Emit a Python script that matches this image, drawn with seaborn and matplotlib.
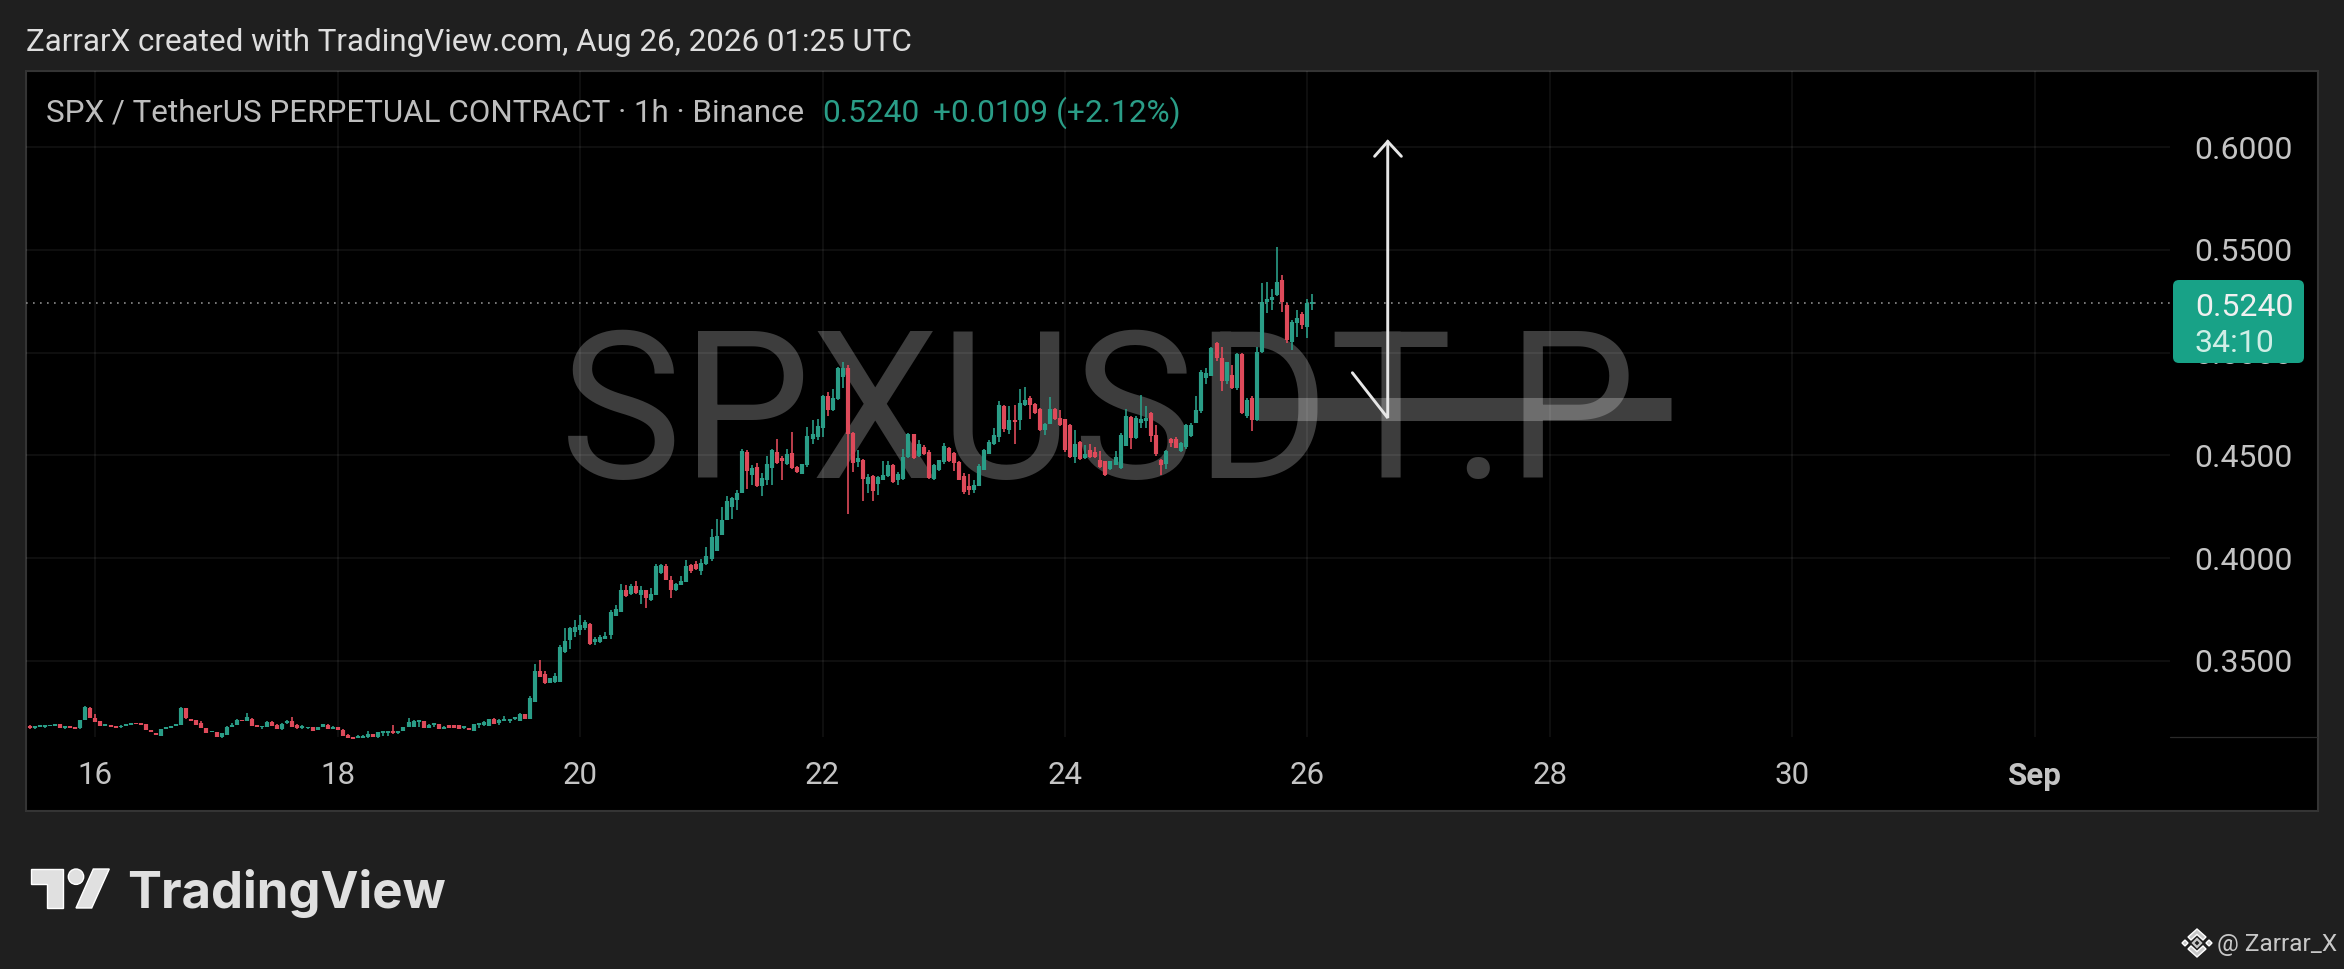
import numpy as np
import pandas as pd
import seaborn as sns
import matplotlib.pyplot as plt
from matplotlib.patches import Polygon, FancyBboxPatch, Rectangle, Circle

# hourly candles. hour 0 = Aug 16 00:00 UTC
first_hour = -13

opens = [
    .3183, .3176, .3181, .3181, .3185, .3188, .3193, .3176, .3178, .3176,
    .3172, .3212, .3272, .3224, .3208, .3188, .3184, .3180, .3177, .3185,
    .3188, .3197, .3196, .3193, .3165, .3150, .3137, .3170, .3175, .3185,
    .3188, .3270, .3215, .3212, .3200, .3175, .3155, .3155, .3128, .3140,
    .3180, .3190, .3213, .3208, .3220, .3185, .3180, .3178, .3205, .3190,
    .3170, .3197, .3210, .3190, .3172, .3175, .3178, .3163, .3180, .3190,
    .3168, .3178, .3166, .3142, .3124, .3126, .3126, .3129, .3145, .3129,
    .3150, .3153, .3160, .3148, .3160, .3181, .3178, .3205, .3207, .3175,
    .3189, .3191, .3170, .3186, .3187, .3186, .3176, .3170, .3161, .3190,
    .3186, .3184, .3220, .3197, .3207, .3210, .3216, .3207, .3242, .3218,
    .3300, .3453, .3437, .3393, .3396, .3400, .3543, .3600, .3641, .3650,
    .3658, .3682, .3592, .3592, .3608, .3625, .3720, .3740, .3847, .3825,
    .3863, .3822, .3847, .3797, .3822, .3930, .3962, .3896, .3847, .3868,
    .3885, .3965, .3970, .3937, .3970, .3995, .4036, .4115, .4184, .4247,
    .4283, .4316, .4516, .4406, .4444, .4349, .4382, .4439, .4516, .4489,
    .4456, .4510, .4444, .4411, .4451, .4581, .4590, .4635, .4788, .4720,
    .4772, .4880, .4924, .4609, .4467, .4479, .4362, .4402, .4362, .4381,
    .4402, .4451, .4378, .4386, .4492, .4603, .4495, .4541, .4516, .4386,
    .4427, .4467, .4537, .4511, .4467, .4402, .4353, .4332, .4353, .4430,
    .4508, .4554, .4590, .4740, .4625, .4674, .4671, .4745, .4777, .4749,
    .4728, .4622, .4655, .4728, .4684, .4679, .4647, .4492, .4565, .4489,
    .4524, .4516, .4479, .4471, .4434, .4455, .4439, .4547, .4688, .4586,
    .4659, .4667, .4707, .4597, .4479, .4460, .4578, .4578, .4521, .4542,
    .4594, .4659, .4714, .4876, .4887, .5045, .4973, .4860, .4892, .4827,
    .4994, .4690, .4779, .4674, .5005, .5247, .5255, .5279, .5352, .5231,
    .5053, .5142, .5190, .5126, .5239,
]
highs = [
    .3186, .3180, .3190, .3184, .3188, .3193, .3194, .3185, .3179, .3177,
    .3213, .3283, .3274, .3240, .3209, .3191, .3185, .3181, .3186, .3189,
    .3196, .3198, .3197, .3194, .3166, .3151, .3168, .3176, .3181, .3189,
    .3278, .3272, .3216, .3213, .3210, .3176, .3160, .3156, .3149, .3182,
    .3196, .3216, .3214, .3245, .3222, .3186, .3183, .3206, .3206, .3192,
    .3197, .3215, .3225, .3192, .3186, .3180, .3179, .3179, .3193, .3191,
    .3182, .3179, .3167, .3143, .3125, .3142, .3138, .3161, .3146, .3154,
    .3157, .3159, .3186, .3161, .3179, .3221, .3215, .3211, .3208, .3192,
    .3195, .3192, .3182, .3187, .3188, .3187, .3182, .3171, .3195, .3195,
    .3206, .3217, .3221, .3216, .3234, .3219, .3227, .3245, .3243, .3330,
    .3485, .3506, .3453, .3418, .3440, .3576, .3661, .3665, .3700, .3724,
    .3697, .3685, .3617, .3628, .3641, .3746, .3773, .3872, .3868, .3872,
    .3888, .3863, .3847, .3855, .3970, .3974, .3970, .3912, .3880, .3912,
    .3990, .3974, .3987, .3995, .4053, .4143, .4192, .4250, .4303, .4299,
    .4332, .4530, .4526, .4451, .4464, .4415, .4497, .4530, .4582, .4497,
    .4530, .4615, .4448, .4460, .4639, .4671, .4679, .4793, .4810, .4821,
    .4932, .4956, .4940, .4615, .4524, .4484, .4410, .4407, .4402, .4472,
    .4472, .4456, .4418, .4533, .4609, .4606, .4577, .4549, .4524, .4456,
    .4479, .4560, .4541, .4516, .4472, .4414, .4410, .4378, .4456, .4533,
    .4577, .4635, .4764, .4743, .4740, .4745, .4821, .4834, .4788, .4756,
    .4731, .4658, .4785, .4731, .4720, .4679, .4655, .4622, .4570, .4549,
    .4557, .4540, .4520, .4473, .4475, .4520, .4610, .4727, .4691, .4690,
    .4796, .4739, .4710, .4646, .4482, .4525, .4583, .4591, .4565, .4655,
    .4660, .4791, .4915, .4924, .5029, .5053, .5026, .4956, .4940, .4998,
    .5000, .4779, .4790, .5026, .5339, .5344, .5311, .5513, .5376, .5239,
    .5161, .5206, .5198, .5263, .5284,
]
lows = [
    .3170, .3170, .3178, .3172, .3184, .3187, .3174, .3168, .3175, .3169,
    .3171, .3211, .3222, .3203, .3184, .3187, .3181, .3175, .3176, .3184,
    .3187, .3194, .3188, .3164, .3152, .3138, .3136, .3169, .3174, .3184,
    .3187, .3220, .3209, .3189, .3174, .3149, .3154, .3129, .3127, .3138,
    .3178, .3189, .3207, .3207, .3184, .3179, .3170, .3177, .3183, .3168,
    .3165, .3195, .3178, .3170, .3171, .3170, .3159, .3162, .3179, .3167,
    .3167, .3164, .3133, .3123, .3122, .3125, .3125, .3125, .3128, .3124,
    .3134, .3137, .3146, .3147, .3159, .3178, .3177, .3178, .3172, .3174,
    .3178, .3167, .3169, .3173, .3173, .3169, .3170, .3164, .3160, .3174,
    .3185, .3183, .3193, .3189, .3206, .3197, .3215, .3206, .3217, .3217,
    .3299, .3420, .3388, .3392, .3395, .3396, .3540, .3558, .3616, .3625,
    .3650, .3578, .3576, .3589, .3605, .3608, .3718, .3740, .3809, .3822,
    .3827, .3777, .3760, .3790, .3820, .3921, .3894, .3806, .3839, .3868,
    .3885, .3929, .3942, .3918, .3967, .3987, .4036, .4115, .4184, .4192,
    .4234, .4316, .4336, .4357, .4345, .4304, .4357, .4357, .4456, .4382,
    .4452, .4434, .4415, .4408, .4445, .4557, .4577, .4590, .4691, .4717,
    .4769, .4826, .4215, .4418, .4443, .4280, .4316, .4280, .4309, .4378,
    .4394, .4365, .4358, .4381, .4489, .4484, .4492, .4500, .4386, .4378,
    .4423, .4459, .4467, .4423, .4378, .4313, .4309, .4316, .4350, .4427,
    .4505, .4549, .4565, .4612, .4606, .4554, .4622, .4740, .4679, .4700,
    .4619, .4601, .4652, .4674, .4642, .4516, .4489, .4463, .4480, .4484,
    .4489, .4489, .4440, .4398, .4430, .4455, .4432, .4545, .4532, .4580,
    .4634, .4634, .4565, .4497, .4406, .4434, .4542, .4537, .4515, .4530,
    .4590, .4659, .4705, .4848, .4885, .4960, .4811, .4845, .4823, .4820,
    .4700, .4682, .4618, .4666, .5000, .5194, .5206, .5275, .5198, .5048,
    .5013, .5077, .5113, .5069, .5206,
]
closes = [
    .3175, .3178, .3183, .3183, .3187, .3192, .3175, .3179, .3176, .3170,
    .3212, .3276, .3224, .3205, .3185, .3190, .3182, .3176, .3185, .3188,
    .3195, .3195, .3190, .3165, .3153, .3140, .3167, .3175, .3180, .3188,
    .3272, .3222, .3210, .3190, .3175, .3150, .3158, .3130, .3148, .3180,
    .3190, .3215, .3208, .3225, .3185, .3180, .3182, .3205, .3185, .3170,
    .3195, .3210, .3180, .3172, .3185, .3178, .3160, .3178, .3192, .3168,
    .3180, .3165, .3134, .3124, .3123, .3134, .3137, .3145, .3130, .3153,
    .3155, .3158, .3148, .3160, .3178, .3202, .3210, .3210, .3173, .3190,
    .3194, .3168, .3181, .3174, .3174, .3170, .3181, .3165, .3194, .3194,
    .3205, .3216, .3194, .3215, .3218, .3218, .3226, .3242, .3218, .3320,
    .3453, .3421, .3393, .3417, .3429, .3570, .3595, .3658, .3666, .3674,
    .3690, .3584, .3608, .3617, .3622, .3740, .3752, .3847, .3814, .3863,
    .3830, .3847, .3806, .3825, .3962, .3965, .3896, .3847, .3872, .3888,
    .3962, .3937, .3946, .3978, .4012, .4102, .4110, .4184, .4280, .4291,
    .4319, .4522, .4423, .4439, .4349, .4390, .4456, .4527, .4464, .4472,
    .4505, .4439, .4418, .4456, .4593, .4606, .4642, .4788, .4720, .4777,
    .4924, .4924, .4606, .4463, .4489, .4386, .4397, .4329, .4394, .4407,
    .4451, .4370, .4410, .4492, .4603, .4489, .4554, .4505, .4391, .4451,
    .4476, .4544, .4472, .4462, .4381, .4321, .4332, .4358, .4446, .4528,
    .4565, .4598, .4745, .4630, .4674, .4663, .4756, .4769, .4745, .4704,
    .4622, .4655, .4728, .4679, .4647, .4524, .4492, .4557, .4484, .4508,
    .4492, .4492, .4444, .4406, .4471, .4492, .4600, .4691, .4586, .4683,
    .4675, .4683, .4594, .4505, .4455, .4523, .4558, .4537, .4561, .4650,
    .4650, .4723, .4908, .4900, .5021, .4973, .4860, .4956, .4827, .4994,
    .4706, .4771, .4674, .5005, .5247, .5263, .5271, .5344, .5247, .5061,
    .5150, .5166, .5134, .5239, .5240,
]

price_ticks = [0.35, 0.40, 0.45, 0.50, 0.55, 0.60]
price_labels = ['0.3500', '0.4000', '0.4500', '0.5000', '0.5500', '0.6000']
time_ticks = [0, 48, 96, 144, 192, 240, 288, 336, 384]
time_labels = ['16', '18', '20', '22', '24', '26', '28', '30', 'Sep']
last_price = 0.5240

# drawings on the chart (hour, price)
zone_hours = [230.2, 312]
zone_price = 0.4728
arrow_hours = [248.9, 255.9, 255.9]
arrow_prices = [0.4902, 0.4682, 0.6027]
arrow_head_hours = [253.3, 255.9, 258.6]
arrow_head_prices = [0.5955, 0.6027, 0.5955]

GREEN = '#2a9d87'
RED = '#de4a5a'
W, H = 2344, 969
MIN_BODY = 0.0009  # tiny bodies still show as a small block on the chart

sns.set_theme(style='dark', rc={'axes.facecolor': 'black', 'figure.facecolor': '#1f1f1f'})
plt.rcParams['font.family'] = ['Roboto', 'DejaVu Sans']

fig = plt.figure(figsize=(W / 100, H / 100), dpi=100)


def px_axes(left, top, right, bottom, **kws):
    return fig.add_axes([left / W, 1 - bottom / H, (right - left) / W, (bottom - top) / H], **kws)


# pane behind everything
bg = px_axes(0, 0, W, H, zorder=-1)
bg.set_xlim(0, W)
bg.set_ylim(H, 0)
bg.axis('off')
bg.add_patch(Rectangle((25.5, 70.5), 2292, 740, fc='black', ec='#343434', lw=1.5))
bg.plot([2170, 2317], [737, 737], color='#2a2a2a', lw=0.9)

# price pane
ax = px_axes(25.5, 71, 2170, 737)
ax.set_facecolor('black')
ax.patch.set_alpha(0)
ax.set_xlim(-13.84, 410.8)
ax.set_ylim(0.3130, 0.6370)

hours = first_hour + np.arange(len(closes))
side = np.where(np.array(closes) >= np.array(opens), 'up', 'down')
palette = {'up': GREEN, 'down': RED}

body_mid = (np.array(opens) + np.array(closes)) / 2
body_half = np.maximum(np.abs(np.array(closes) - np.array(opens)), MIN_BODY) / 2

wicks = pd.DataFrame({
    'candle': np.tile(hours, 2),
    'hour': np.tile(hours, 2),
    'price': lows + highs,
    'side': np.tile(side, 2),
})
bodies = pd.DataFrame({
    'candle': np.tile(hours, 2),
    'hour': np.tile(hours, 2),
    'price': np.concatenate([body_mid - body_half, body_mid + body_half]),
    'side': np.tile(side, 2),
})

ax.text(198.7, 0.4390, 'SPXUSDT.P', color='#3d3d3d', fontsize=148, ha='center', va='baseline', zorder=0.3)
ax.plot(zone_hours, [zone_price, zone_price], color='white', alpha=0.25, lw=16.6,
        solid_capstyle='butt', zorder=0.8)

line_kws = dict(units='candle', estimator=None, sort=False, hue='side', palette=palette, legend=False,
                solid_capstyle='butt', clip_on=False, ax=ax)
sns.lineplot(data=wicks, x='hour', y='price', linewidth=1.2, zorder=3, **line_kws)
sns.lineplot(data=bodies, x='hour', y='price', linewidth=3.0, zorder=3.2, **line_kws)

ax.axhline(last_price, color='#8c8c8c', lw=1.2, ls=(0, (1, 3.2)), zorder=1)
ax.plot(arrow_hours, arrow_prices, color='#e6e6e6', lw=2.1, solid_joinstyle='miter', zorder=4)
ax.plot(arrow_head_hours, arrow_head_prices, color='#e6e6e6', lw=2.1, solid_joinstyle='miter', zorder=4)

ax.yaxis.tick_right()
ax.set_yticks(price_ticks)
ax.set_yticklabels(price_labels)
ax.set_xticks(time_ticks)
ax.set_xticklabels(time_labels)
ax.get_xticklabels()[-1].set_fontweight('bold')
ax.tick_params(axis='y', length=0, pad=17.5, labelsize=23, labelcolor='#c4c4c4')
ax.tick_params(axis='x', length=0, pad=17, labelsize=22.5, labelcolor='#c4c4c4')
ax.grid(True, color='white', alpha=0.065, lw=1.3)
ax.set_axisbelow(True)
ax.set_xlabel('')
ax.set_ylabel('')
sns.despine(ax=ax, left=True, bottom=True, right=True, top=True)

# header, price tag, logo and credit on top
fg = px_axes(0, 0, W, H, zorder=5)
fg.set_xlim(0, W)
fg.set_ylim(H, 0)
fg.axis('off')
fg.patch.set_alpha(0)

fg.text(26, 42, 'ZarrarX created with TradingView.com, Aug 26, 2026 01:25 UTC', color='#dedede',
        fontsize=22.6, va='center')
fg.text(46, 113, 'SPX / TetherUS PERPETUAL CONTRACT · 1h · Binance', color='#bdbdbd', fontsize=22.6, va='center')
fg.text(822, 113, '0.5240', color=GREEN, fontsize=22.8, va='center')
fg.text(933, 113, '+0.0109 (+2.12%)', color=GREEN, fontsize=22.8, va='center')

fg.add_patch(FancyBboxPatch((2175, 282), 127, 79, boxstyle='round,pad=2,rounding_size=6', fc='#18a287', ec='none'))
fg.text(2195, 308, '0.5240', color='#f0f0f0', fontsize=23, va='center')
fg.text(2195, 344, '34:10', color='#cfeee6', fontsize=23, va='center')

# TradingView mark
logo_color = '#e0e0e0'
fg.add_patch(Polygon([(31, 869), (62.7, 869), (62.7, 908), (46.7, 908), (46.7, 884), (31, 884)], fc=logo_color))
fg.add_patch(Polygon([(93.3, 869), (109.3, 869), (91.7, 908), (76, 908)], fc=logo_color))
fg.add_patch(Circle((76, 876.7), 7.7, fc=logo_color))
fg.text(127, 908, 'TradingView', color=logo_color, fontsize=36.6, fontfamily=['Inter', 'DejaVu Sans'],
        fontweight='bold', va='baseline')

# credit with the small diamond mark
credit = '#c8c8c8'
fg.add_patch(Polygon([(2197, 929), (2206, 937), (2203, 940), (2197, 934.5), (2191, 940), (2188, 937)], fc=credit))
fg.add_patch(Polygon([(2197, 957), (2206, 949), (2203, 946), (2197, 951.5), (2191, 946), (2188, 949)], fc=credit))
fg.add_patch(Polygon([(2197, 939), (2201, 943), (2197, 947), (2193, 943)], fc='none', ec=credit, lw=1.6))
fg.add_patch(Polygon([(2185, 940), (2188, 943), (2185, 946), (2182, 943)], fc=credit))
fg.add_patch(Polygon([(2209, 940), (2212, 943), (2209, 946), (2206, 943)], fc=credit))
fg.text(2217, 944, '@ Zarrar_X', color=credit, fontsize=17.6, va='center')

fig.savefig('out.png', dpi=100, facecolor=fig.get_facecolor())
